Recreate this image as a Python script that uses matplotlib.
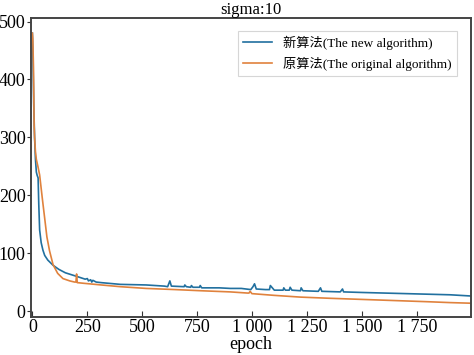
import matplotlib.pyplot as plt
from matplotlib.ticker import FuncFormatter

plt.rcParams['font.family'] = ['Liberation Serif', 'Noto Sans CJK SC']

# epochs / loss values
new_epoch = [0, 3, 6, 10, 14, 18, 22, 26, 29, 33, 40, 48, 56, 70, 94, 120, 150, 200,
             240, 250, 255, 265, 270, 275, 290, 313, 400, 517, 600, 615, 625, 632,
             690, 693, 700, 720, 723, 730, 760, 763, 770, 800, 850, 900, 950, 993,
             1003, 1010, 1018, 1060, 1078, 1082, 1100, 1140, 1143, 1150, 1168, 1172,
             1180, 1219, 1222, 1230, 1300, 1310, 1316, 1400, 1410, 1415, 1500, 1600,
             1700, 1800, 1900, 1990]
new_loss = [480, 430, 360, 300, 262, 240, 234, 230, 185, 140, 118, 105, 96, 88, 79, 72,
            66, 60, 55, 56, 52, 54, 50, 53, 50, 49, 46, 45, 43, 42, 52, 43,
            42, 45, 42, 41, 44, 41, 41, 44, 40, 40, 40, 39, 39, 37,
            42, 47, 38, 37, 37, 44, 36, 36, 40, 36, 36, 41,
            36, 35, 40, 35, 34, 40, 34, 33, 38, 33, 32, 31,
            30, 29, 28, 26]

orig_epoch = [0, 2, 5, 8, 10, 14, 18, 25, 33, 45, 56, 66, 78, 94, 115, 139, 170, 192,
              198, 201, 204, 230, 313, 400, 517, 650, 766, 900, 978, 985, 990, 998,
              1100, 1219, 1350, 1500, 1650, 1800, 1900, 1990]
orig_loss = [480, 470, 420, 320, 300, 275, 262, 250, 235, 195, 160, 128, 104, 80, 65, 56,
             52, 50, 50, 64, 49, 48, 45, 42, 39, 37, 35, 33, 31, 31, 34, 30,
             27, 24, 22, 20, 18, 16, 14.5, 13.5]

blue = '#21709f'
orange = '#e0823d'

fig = plt.figure(figsize=(4.74, 3.55), dpi=100)
ax = fig.add_axes([0.066, 0.106, 0.928, 0.843])
ax.plot(new_epoch, new_loss, color=blue, lw=1.2, label='新算法(The new algorithm)')
ax.plot(orig_epoch, orig_loss, color=orange, lw=1.2, label='原算法(The original algorithm)')

ax.set_xlim(-5, 1995)
ax.set_ylim(-11, 506)
ax.set_xticks([0, 250, 500, 750, 1000, 1250, 1500, 1750])
ax.set_yticks([0, 100, 200, 300, 400, 500])
ax.xaxis.set_major_formatter(FuncFormatter(
    lambda v, p: f"{int(v):,}".replace(',', ' ')))
ax.tick_params(axis='x', direction='in', length=4, labelsize=13, pad=1, color='#333333')
ax.tick_params(axis='y', direction='out', length=3, labelsize=13, pad=1, color='#333333')
for s in ax.spines.values():
    s.set_color('#444444')
    s.set_linewidth(1.4)

ax.set_title('sigma:10', fontsize=12, pad=3)
ax.set_xlabel('epoch', fontsize=13, labelpad=0)
leg = ax.legend(loc='upper right', fontsize=9.5, fancybox=False, frameon=True,
                edgecolor='#cccccc', handlelength=2.2, borderaxespad=0.6,
                bbox_to_anchor=(0.985, 0.985))
leg.get_frame().set_linewidth(0.8)

fig.savefig('out.png', dpi=100)
